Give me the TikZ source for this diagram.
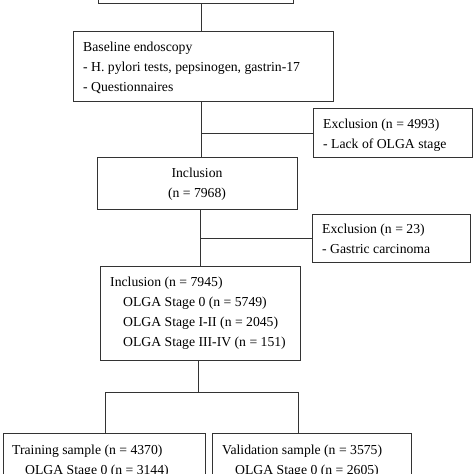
\documentclass[tikz,border=0pt]{standalone}
\usepackage{fontspec}
\setmainfont{Liberation Serif}
\begin{document}
\begin{tikzpicture}[x=1pt,y=-1pt,
  box/.style={draw=black!80, line width=0.8pt, rectangle, inner sep=0pt, anchor=north west},
  txt/.style={font=\fontsize{13.7}{20}\selectfont, align=left, anchor=north west, inner sep=0pt},
  ctxt/.style={font=\fontsize{13.7}{20}\selectfont, align=center, inner sep=0pt},
  link/.style={draw=black!80, line width=0.8pt}]
\useasboundingbox (0,0) rectangle (474,474);
% boxes
\node[box, minimum width=195, minimum height=40] (top) at (98,-37) {};
\node[box, minimum width=260, minimum height=70] (base) at (73,31) {};
\node[box, minimum width=159, minimum height=49] (excl1) at (313,108) {};
\node[box, minimum width=200, minimum height=52] (inc1) at (97,157) {};
\node[box, minimum width=158, minimum height=48] (excl2) at (312,214) {};
\node[box, minimum width=200, minimum height=94] (inc2) at (100,266) {};
\node[box, minimum width=202, minimum height=94] (train) at (3,433) {};
\node[box, minimum width=199, minimum height=94] (valid) at (212,433) {};
% texts
\node[txt] (tbase) at (83,42) {Baseline endoscopy\\- H. pylori tests, pepsinogen, gastrin-17\\- Questionnaires};
\node[txt] (texcl1) at (323,119) {Exclusion (n = 4993)\\- Lack of OLGA stage};
\node[ctxt] (tinc1) at (197,184) {Inclusion\\(n = 7968)};
\node[txt] (texcl2) at (322,224) {Exclusion (n = 23)\\- Gastric carcinoma};
\node[txt] (tinc2) at (110,277) {Inclusion (n = 7945)\\\hspace*{13pt}OLGA Stage 0 (n = 5749)\\\hspace*{13pt}OLGA Stage I-II (n = 2045)\\\hspace*{13pt}OLGA Stage III-IV (n = 151)};
\node[txt] (ttrain) at (12,445) {Training sample (n = 4370)\\\hspace*{13pt}OLGA Stage 0 (n = 3144)};
\node[txt] (tvalid) at (222,445) {Validation sample (n = 3575)\\\hspace*{13pt}OLGA Stage 0 (n = 2605)};
% spines
\coordinate (s1) at (201,0);
\coordinate (s2) at (200,0);
\coordinate (s3) at (198,0);
\coordinate (split) at (198,392);
\coordinate (sl) at (105,392);
\coordinate (sr) at (298,392);
% connectors
\draw[link] (top.south -| s1) -- (base.north -| s1);
\draw[link] (base.south -| s1) -- (inc1.north -| s1);
\draw[link] (excl1.west) -- (excl1.west -| s1);
\draw[link] (inc1.south -| s2) -- (inc2.north -| s2);
\draw[link] (excl2.west) -- (excl2.west -| s2);
\draw[link] (inc2.south -| s3) -- (split);
\draw[link] (sl) -- (sr);
\draw[link] (sl) -- (train.north -| sl);
\draw[link] (sr) -- (valid.north -| sr);
\end{tikzpicture}
\end{document}
